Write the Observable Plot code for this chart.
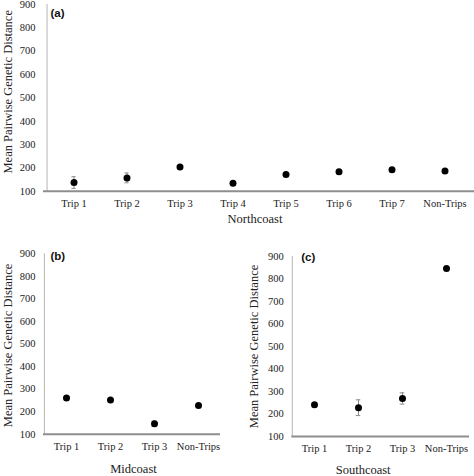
<!DOCTYPE html>
<html>
<head>
<meta charset="utf-8">
<script src="https://cdn.jsdelivr.net/npm/d3@7"></script>
<script src="https://cdn.jsdelivr.net/npm/@observablehq/plot@0.6"></script>
<style>
  body { margin: 0; background: #fff; }
  #chart { position: relative; width: 474px; height: 476px; overflow: hidden; background: #fff; }
  #chart svg { position: absolute; overflow: visible; }
  #chart svg g[aria-label$="tick label"] text { font-family: "Liberation Serif", serif; }
</style>
</head>
<body>
<div id="chart"></div>
<script>
// Mean pairwise genetic distance (± error) by collection trip, per coast
const northCats = ["Trip 1", "Trip 2", "Trip 3", "Trip 4", "Trip 5", "Trip 6", "Trip 7", "Non-Trips"];
const northMeans = [137, 157, 204, 134, 172, 183, 192, 187];
const northErrors = [25, 21, 4, 3, 4, 8, 8, 4];

const midCats = ["Trip 1", "Trip 2", "Trip 3", "Non-Trips"];
const midMeans = [260, 252, 146, 227];
const midErrors = [5, 4, 12, 4];

const southCats = ["Trip 1", "Trip 2", "Trip 3", "Non-Trips"];
const southMeans = [241, 228, 269, 847];
const southErrors = [8, 35, 25, 4];

const yTicks = [100, 200, 300, 400, 500, 600, 700, 800, 900];
const yTitle = "Mean Pairwise Genetic Distance";

const serif = "Liberation Serif";
const sans = "Liberation Sans";

function panel(o) {
  const rows = o.cats.map((c, i) => ({
    cat: c,
    mean: o.means[i],
    lo: o.means[i] - o.errors[i],
    hi: o.means[i] + o.errors[i]
  }));
  const bw = (o.width - o.marginLeft - o.marginRight) / o.cats.length;
  const capInset = (bw - 5) / 2;
  const svg = Plot.plot({
    width: o.width,
    height: o.height,
    marginLeft: o.marginLeft,
    marginRight: o.marginRight,
    marginTop: o.marginTop,
    marginBottom: o.marginBottom,
    style: { fontFamily: serif, fontSize: "10.5px", color: "#222", background: "transparent" },
    x: { domain: o.cats, padding: 0, axis: null },
    y: { domain: [100, 900], axis: null },
    marks: [
      Plot.axisX({ tickSize: 0, tickPadding: 8, label: null, fontFamily: serif, fontSize: 10.5, fill: "#222" }),
      Plot.axisY({ ticks: yTicks, tickSize: 0, tickPadding: 8, label: null, fontFamily: serif, fontSize: 10.5, fill: "#222" }),
      // axis lines
      Plot.ruleX([o.cats[0]], { dx: -bw / 2, stroke: "#b5b5b5", strokeWidth: 1 }),
      Plot.ruleY([100], { stroke: "#8e8e8e", strokeWidth: 2 }),
      // error bars with caps
      Plot.ruleX(rows, { x: "cat", y1: "lo", y2: "hi", stroke: "#8a8a8a", strokeWidth: 1 }),
      Plot.tickY(rows, { x: "cat", y: "lo", insetLeft: capInset, insetRight: capInset, stroke: "#8a8a8a", strokeWidth: 1 }),
      Plot.tickY(rows, { x: "cat", y: "hi", insetLeft: capInset, insetRight: capInset, stroke: "#8a8a8a", strokeWidth: 1 }),
      // means
      Plot.dot(rows, { x: "cat", y: "mean", r: 3.5, fill: "black", stroke: null }),
      // region name under the axis
      Plot.text([o.region], {
        text: d => d, frameAnchor: "bottom", dx: o.regionDx, dy: o.regionDy,
        fontFamily: serif, fontSize: 12.5, fill: "#222"
      }),
      // y axis title
      Plot.text([yTitle], {
        text: d => d, frameAnchor: "left", textAnchor: "middle", rotate: -90, dx: o.titleDx, dy: o.titleDy,
        fontFamily: serif, fontSize: 12.5, fill: "#222"
      }),
      // panel tag
      Plot.text([o.tag], {
        text: d => d, frameAnchor: "top-left", dx: o.tagDx, dy: o.tagDy,
        textAnchor: "start", fontFamily: sans, fontWeight: "bold", fontSize: 11.5, fill: "#111"
      })
    ]
  });
  svg.style.left = o.left + "px";
  svg.style.top = o.top + "px";
  return svg;
}

const chart = document.getElementById("chart");

chart.append(panel({
  cats: northCats, means: northMeans, errors: northErrors,
  left: 0, top: 0, width: 474, height: 232,
  marginLeft: 43, marginRight: 0, marginTop: 3.9, marginBottom: 41.3,
  region: "Northcoast", regionDx: -4, regionDy: 31.3,
  titleDx: -35.5, titleDy: -6,
  tag: "(a)", tagDx: 7, tagDy: 4.4
}));

chart.append(panel({
  cats: midCats, means: midMeans, errors: midErrors,
  left: 0, top: 240, width: 222, height: 236,
  marginLeft: 43, marginRight: 2, marginTop: 13.3, marginBottom: 42.3,
  region: "Midcoast", regionDx: 1.5, regionDy: 39,
  titleDx: -35.5, titleDy: 1.5,
  tag: "(b)", tagDx: 7, tagDy: -2.3
}));

chart.append(panel({
  cats: southCats, means: southMeans, errors: southErrors,
  left: 246, top: 240, width: 228, height: 236,
  marginLeft: 45.3, marginRight: 5, marginTop: 16, marginBottom: 40,
  region: "Southcoast", regionDx: -17.5, regionDy: 37,
  titleDx: -38.3, titleDy: 0,
  tag: "(c)", tagDx: 9.4, tagDy: -3.3
}));
</script>
</body>
</html>
